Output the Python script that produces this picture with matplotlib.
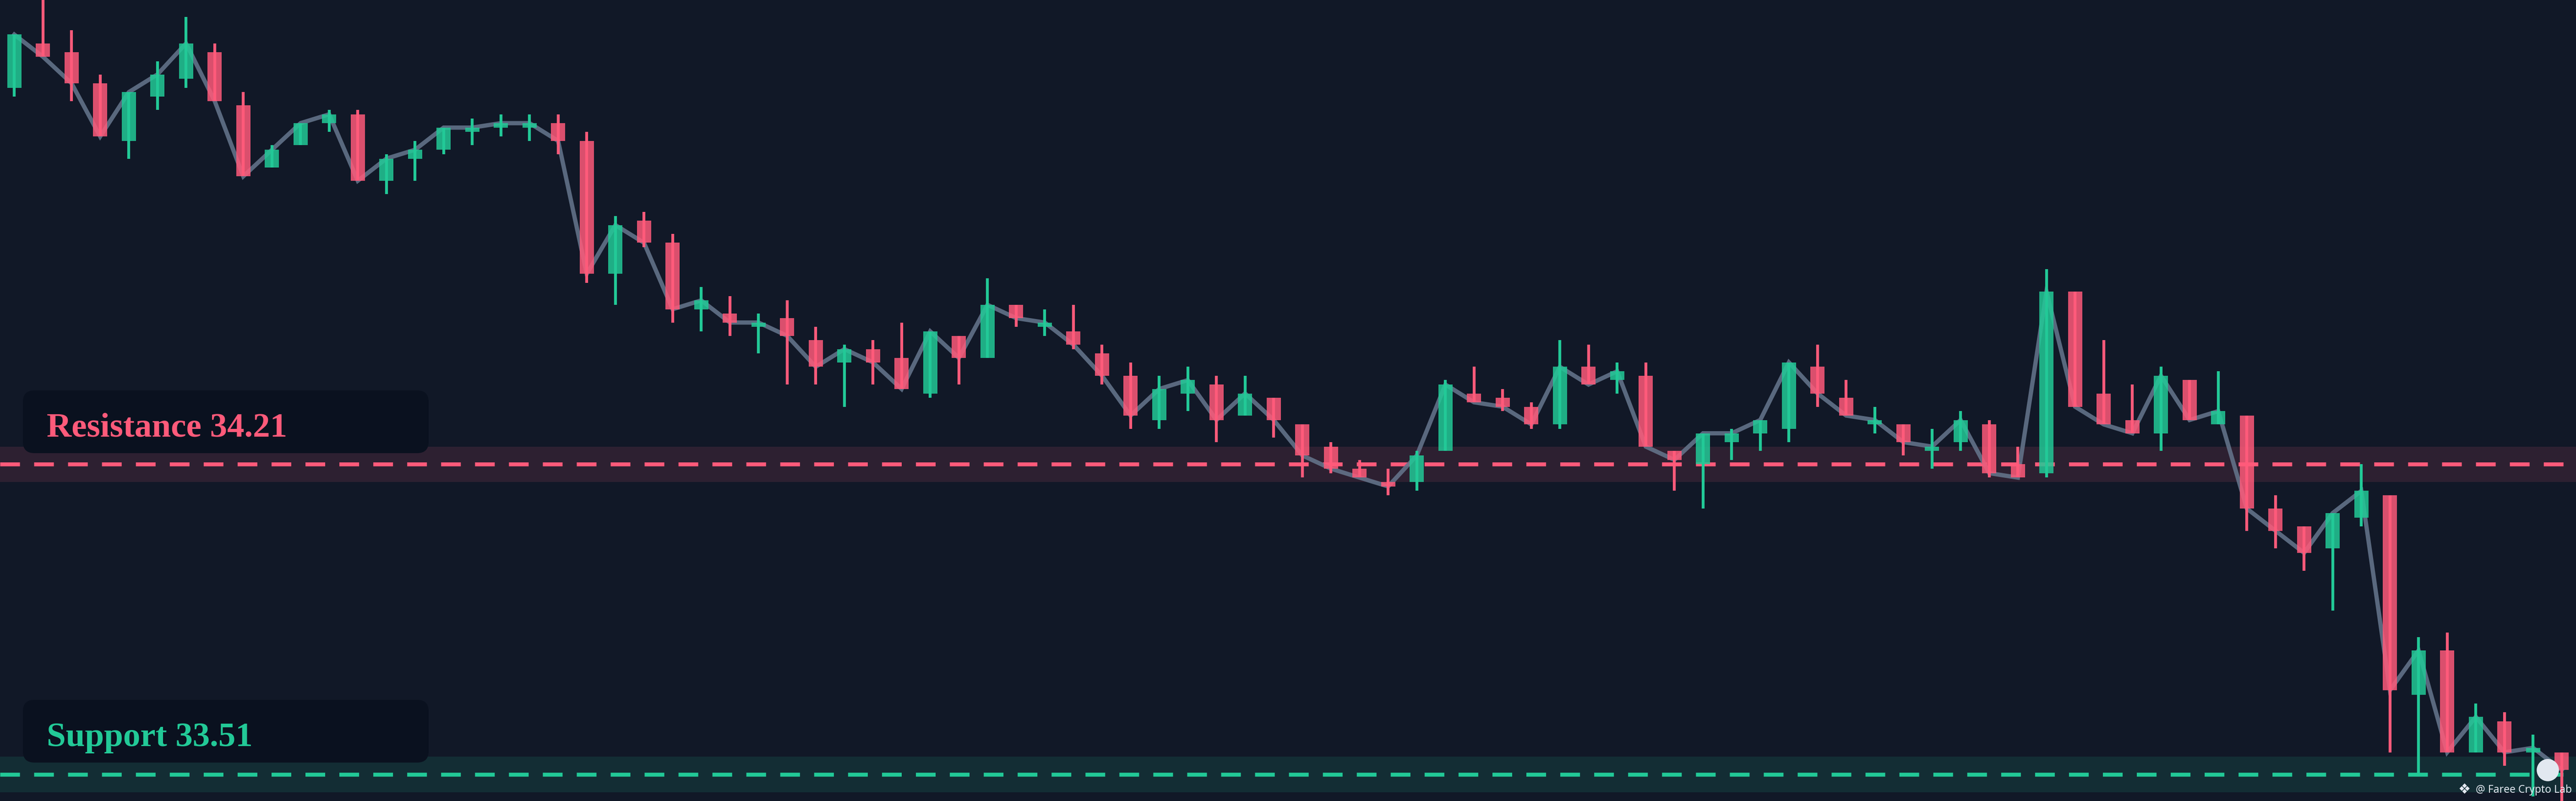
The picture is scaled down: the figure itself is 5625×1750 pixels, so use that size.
import matplotlib.pyplot as plt
import numpy as np
from matplotlib.patches import FancyBboxPatch

# OHLC, one entry per candle
opens = [35.06, 35.16, 35.14, 35.07, 34.94, 35.04, 35.08, 35.14, 35.02, 34.88,
         34.93, 34.98, 35.00, 34.85, 34.90, 34.92, 34.96, 34.97, 34.97, 34.98,
         34.94, 34.64, 34.76, 34.71, 34.56, 34.55, 34.52, 34.54, 34.49, 34.44,
         34.47, 34.45, 34.37, 34.50, 34.45, 34.57, 34.52, 34.51, 34.46, 34.41,
         34.31, 34.37, 34.39, 34.32, 34.36, 34.30, 34.25, 34.20, 34.17, 34.17,
         34.24, 34.37, 34.36, 34.34, 34.30, 34.43, 34.40, 34.41, 34.24, 34.21,
         34.26, 34.28, 34.29, 34.43, 34.36, 34.30, 34.30, 34.24, 34.26, 34.30,
         34.21, 34.19, 34.60, 34.37, 34.31, 34.28, 34.40, 34.30, 34.32, 34.11,
         34.07, 34.02, 34.09, 34.14, 33.69, 33.79, 33.56, 33.63, 33.56, 33.56]
highs = [35.18, 35.30, 35.19, 35.09, 35.05, 35.12, 35.22, 35.16, 35.05, 34.93,
         34.98, 35.01, 35.01, 34.91, 34.94, 34.97, 34.99, 35.00, 35.00, 35.00,
         34.96, 34.77, 34.78, 34.73, 34.61, 34.59, 34.55, 34.58, 34.52, 34.48,
         34.49, 34.53, 34.51, 34.50, 34.63, 34.57, 34.56, 34.57, 34.48, 34.44,
         34.41, 34.43, 34.41, 34.41, 34.36, 34.30, 34.26, 34.22, 34.20, 34.24,
         34.40, 34.43, 34.38, 34.35, 34.49, 34.48, 34.44, 34.44, 34.24, 34.28,
         34.29, 34.31, 34.44, 34.48, 34.40, 34.34, 34.30, 34.29, 34.33, 34.31,
         34.25, 34.65, 34.60, 34.49, 34.39, 34.43, 34.40, 34.42, 34.32, 34.14,
         34.07, 34.10, 34.21, 34.14, 33.82, 33.83, 33.67, 33.65, 33.60, 33.56]
lows = [35.04, 35.13, 35.03, 34.95, 34.90, 35.01, 35.06, 35.03, 34.86, 34.88,
        34.93, 34.96, 34.85, 34.82, 34.85, 34.91, 34.93, 34.95, 34.94, 34.91,
        34.62, 34.57, 34.70, 34.53, 34.51, 34.50, 34.46, 34.39, 34.39, 34.34,
        34.39, 34.38, 34.36, 34.39, 34.45, 34.52, 34.50, 34.47, 34.39, 34.29,
        34.29, 34.33, 34.26, 34.32, 34.27, 34.18, 34.19, 34.18, 34.14, 34.15,
        34.24, 34.35, 34.33, 34.29, 34.29, 34.39, 34.37, 34.25, 34.15, 34.11,
        34.22, 34.24, 34.26, 34.34, 34.32, 34.28, 34.23, 34.20, 34.24, 34.18,
        34.18, 34.18, 34.34, 34.30, 34.28, 34.24, 34.31, 34.30, 34.06, 34.02,
        33.97, 33.88, 34.07, 33.56, 33.51, 33.56, 33.56, 33.53, 33.46, 33.40]
closes = [35.18, 35.13, 35.07, 34.95, 35.05, 35.09, 35.16, 35.03, 34.86, 34.92,
          34.98, 35.00, 34.85, 34.90, 34.92, 34.97, 34.97, 34.98, 34.98, 34.94,
          34.64, 34.75, 34.71, 34.56, 34.58, 34.53, 34.53, 34.50, 34.43, 34.47,
          34.44, 34.38, 34.51, 34.45, 34.57, 34.54, 34.53, 34.48, 34.41, 34.32,
          34.38, 34.40, 34.31, 34.37, 34.31, 34.23, 34.20, 34.18, 34.16, 34.23,
          34.39, 34.35, 34.34, 34.30, 34.43, 34.39, 34.42, 34.25, 34.22, 34.28,
          34.28, 34.31, 34.44, 34.37, 34.32, 34.31, 34.26, 34.25, 34.31, 34.19,
          34.18, 34.60, 34.34, 34.30, 34.28, 34.41, 34.31, 34.33, 34.11, 34.06,
          34.01, 34.10, 34.15, 33.70, 33.79, 33.56, 33.64, 33.56, 33.57, 33.52]

resistance = 34.21
support = 33.51
zone_half = 0.04
watermark = "@ Faree Crypto Lab"

BG = "#111827"
UP = "#22c997"
DOWN = "#ff5a7a"
LINE = "#64748b"
BOX = "#0a111f"
LIGHT = "#e2e8f0"

o = np.array(opens)
h = np.array(highs)
l = np.array(lows)
c = np.array(closes)
x = np.arange(len(c))
colors = np.where(c >= o, UP, DOWN)

fig = plt.figure(figsize=(56.25, 17.5), dpi=100, facecolor=BG)
ax = fig.add_axes([0, 0, 1, 1])
ax.axis("off")

# support / resistance zones
ax.axhspan(resistance - zone_half, resistance + zone_half, color=DOWN, alpha=0.12, lw=0, zorder=1)
ax.axhspan(support - zone_half, support + zone_half, color=UP, alpha=0.12, lw=0, zorder=1)
ax.axhline(resistance, color=DOWN, lw=6.2, dashes=(5.0, 3.6), zorder=1.5)
ax.axhline(support, color=UP, lw=6.2, dashes=(5.0, 3.6), zorder=1.5)

# close line
ax.plot(x, c, color=LINE, lw=6.7, alpha=0.88, zorder=2, solid_joinstyle="miter")

# candles
ax.vlines(x, l, h, colors=colors, lw=4.5, zorder=3)
ax.bar(x, np.abs(c - o), bottom=np.minimum(o, c), width=0.5, color=colors,
       alpha=0.85, lw=0, zorder=4)

# last price marker
ax.plot(len(c) - 1.5, c[-1], "o", ms=35, color=LIGHT, mec="none", zorder=6)

ax.set_xlim(-0.5, len(c) - 0.5)
ax.set_ylim(33.45, 35.258)

# overlay in pixel coordinates for labels
ov = fig.add_axes([0, 0, 1, 1])
ov.axis("off")
ov.set_xlim(0, 5625)
ov.set_ylim(1750, 0)

for y0, base, txt, col in [(853, 953, f"Resistance {resistance:.2f}", DOWN),
                           (1529, 1630, f"Support {support:.2f}", UP)]:
    ov.add_patch(FancyBboxPatch((50, y0), 886, 137,
                                boxstyle="round,pad=0,rounding_size=25",
                                fc=BOX, ec="none"))
    ov.text(102, base, txt, family="Liberation Serif", weight="bold",
            fontsize=54, color=col, va="baseline", ha="left")

ov.text(5616, 1732, watermark, family="Noto Sans", fontsize=16.5,
        color=LIGHT, ha="right", va="baseline")
ov.text(5381, 1725, "\u2756", family="DejaVu Sans", fontsize=22,
        color=LIGHT, ha="center", va="center")

fig.savefig("out.png", dpi=100, facecolor=BG)
